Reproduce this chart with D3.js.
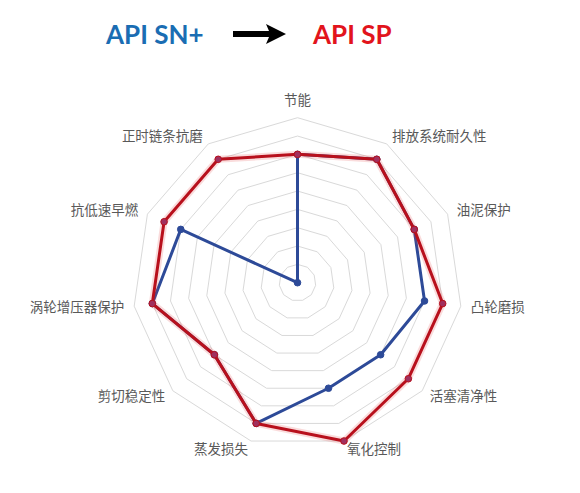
<!DOCTYPE html>
<html><head><meta charset="utf-8">
<script src="https://cdn.jsdelivr.net/npm/d3@7"></script>
<style>
html,body{margin:0;padding:0;background:#fff;}
svg{display:block;}
</style></head>
<body>
<svg id="chart" width="580" height="493"></svg>
<script>
const categories = ["节能","排放系统耐久性","油泥保护","凸轮磨损","活塞清净性","氧化控制","蒸发损失","剪切稳定性","涡轮增压器保护","抗低速早燃","正时链条抗磨"];
const snPlus = [7, 8, 7, 7, 6, 6, 8, 6, 8, 7, 0];
const sp     = [7, 8, 7, 8, 8, 9, 8, 6, 8, 8, 8];
const levels = d3.range(1, 10); // grid rings 1..9
const titleLeft = "API SN+";
const titleRight = "API SP";

const svg = d3.select("#chart");
const cx = 297.5, cy = 282.7, R = 165;
const n = categories.length;
const r = d3.scaleLinear().domain([0, 9]).range([0, R]);
const ang = d3.scaleLinear().domain([0, n]).range([0, 2 * Math.PI]);
const pt = (i, v) => [cx + r(v) * Math.sin(ang(i)), cy - r(v) * Math.cos(ang(i))];

// Title
const tg = svg.append("g");
tg.append("text").attr("x", 106).attr("y", 44).attr("font-family", "Lato, 'Open Sans', sans-serif")
  .attr("font-weight", "bold").attr("font-size", 26).attr("fill", "#1a6db3").text(titleLeft);
tg.append("path").attr("d", "M233,31 L269,31 L266,24 L286,34 L266,44 L269,37 L233,37 Z").attr("fill", "#000");
tg.append("text").attr("x", 313).attr("y", 44).attr("font-family", "Lato, 'Open Sans', sans-serif")
  .attr("font-weight", "bold").attr("font-size", 26).attr("fill", "#e2141c").text(titleRight);

// Grid
const grid = svg.append("g");
levels.forEach(l => {
  grid.append("path")
    .attr("d", d3.line()(d3.range(n).map(i => pt(i, l))) + "Z")
    .attr("fill", "none").attr("stroke", "#d9d9d9").attr("stroke-width", 1);
});

// Labels
const lab = svg.append("g").attr("font-family", "'Noto Sans CJK SC', 'Noto Sans', sans-serif")
  .attr("font-size", 13.5).attr("fill", "#595959");
categories.forEach((c, i) => {
  const a = ang(i), s = Math.sin(a), co = Math.cos(a);
  const [vx, vy] = pt(i, 9);
  let x = vx + 10 * s, y = vy - 9 * co;
  let anchor = "start";
  if (Math.abs(s) < 0.05) { anchor = "middle"; y -= 8; }
  else if (s < 0) anchor = "end";
  if (Math.abs(s) < 0.35) x = vx + 3 * Math.sign(s);
  lab.append("text").attr("x", x).attr("y", y).attr("dy", "0.35em")
    .attr("text-anchor", anchor).text(c);
});

// Series
const line = d3.line();
function drawSeries(vals, color, markFill, glow) {
  const g = svg.append("g");
  const pts = vals.map((v, i) => pt(i, v));
  if (glow) {
    g.append("path").attr("d", line(pts) + "Z").attr("fill", "none")
      .attr("stroke", "rgba(230,60,60,0.18)").attr("stroke-width", 7).attr("stroke-linejoin", "round");
  }
  g.append("path").attr("d", line(pts) + "Z").attr("fill", "none")
    .attr("stroke", color).attr("stroke-width", 3).attr("stroke-linejoin", "round");
  g.selectAll("circle").data(pts).join("circle")
    .attr("cx", d => d[0]).attr("cy", d => d[1]).attr("r", 3.3)
    .attr("fill", markFill).attr("stroke", color).attr("stroke-width", 1);
}
drawSeries(snPlus, "#2d4a98", "#2d4a98", false);
drawSeries(sp, "#b8101c", "#a0305e", true);
</script>
</body></html>
